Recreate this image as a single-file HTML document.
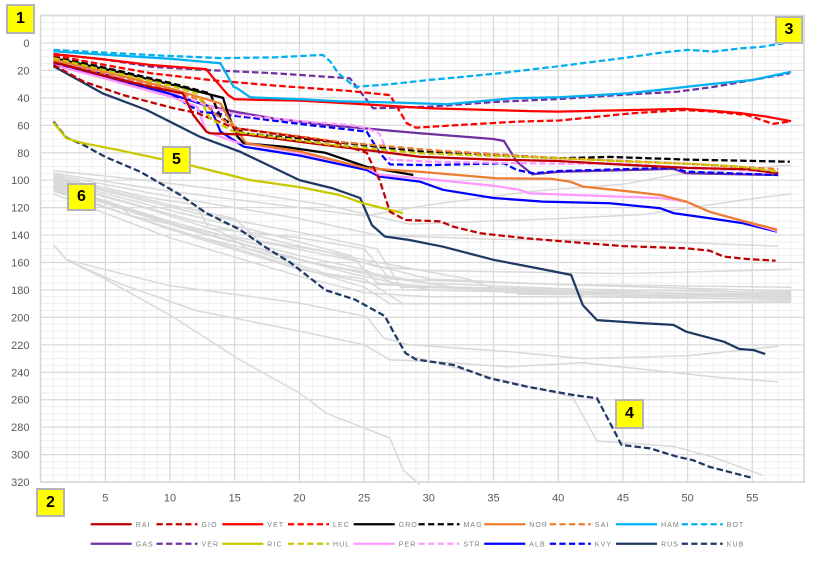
<!DOCTYPE html>
<html>
<head>
<meta charset="utf-8">
<style>
html,body{margin:0;padding:0;background:#fff;}
body{width:829px;height:563px;position:relative;overflow:hidden;font-family:"Liberation Sans",sans-serif;}
svg{position:absolute;left:0;top:0;}
.box{position:absolute;background:#ffff00;border:2px solid #b4b4b4;box-sizing:border-box;font:bold 16px "Liberation Sans",sans-serif;color:#000;display:flex;align-items:center;justify-content:center;}
</style>
</head>
<body>
<svg id="chart" width="829" height="563" viewBox="0 0 829 563" xmlns="http://www.w3.org/2000/svg">
  <g id="grid"></g>
  <g id="gray" fill="none" stroke="#d9d9d9" stroke-width="1.5" stroke-linejoin="round"></g>
  <g id="series" fill="none" stroke-width="2.25" stroke-linejoin="round"></g>
  <g id="axes" font-family="Liberation Sans, sans-serif" font-size="11" fill="#595959"></g>
  <g id="legend"></g>
</svg>
<div class="box" style="left:6px;top:4px;width:29px;height:30px;">1</div>
<div class="box" style="left:36px;top:488px;width:29px;height:29px;">2</div>
<div class="box" style="left:775px;top:16px;width:28px;height:28px;">3</div>
<div class="box" style="left:615px;top:399px;width:29px;height:30px;">4</div>
<div class="box" style="left:162px;top:146px;width:29px;height:28px;">5</div>
<div class="box" style="left:67px;top:183px;width:29px;height:28px;">6</div>
<script>
(function(){
var NS="http://www.w3.org/2000/svg";
function X(l){return 40.6+12.94*l;}
function Y(v){return 43+1.372*v;}
function el(tag,attrs,parent){var e=document.createElementNS(NS,tag);for(var k in attrs)e.setAttribute(k,attrs[k]);parent.appendChild(e);return e;}
var grid=document.getElementById('grid');
var L=X(0),R=X(59),T=Y(-20),B=Y(320);
// minor horizontal
for(var v=-20;v<=320;v+=5){ if(v%20!==0) el('line',{x1:L,x2:R,y1:Y(v),y2:Y(v),stroke:'#efefef','stroke-width':1},grid);}
// minor vertical
for(var l=1;l<59;l++){ if(l%5!==0) el('line',{x1:X(l),x2:X(l),y1:T,y2:B,stroke:'#efefef','stroke-width':1},grid);}
// major horizontal
for(var v=0;v<320;v+=20){ el('line',{x1:L,x2:R,y1:Y(v),y2:Y(v),stroke:'#d9d9d9','stroke-width':1.2},grid);}
for(var l=5;l<59;l+=5){ el('line',{x1:X(l),x2:X(l),y1:T,y2:B,stroke:'#d9d9d9','stroke-width':1.2},grid);}
el('rect',{x:L,y:T,width:R-L,height:B-T,fill:'none',stroke:'#d9d9d9','stroke-width':1.8},grid);

var axes=document.getElementById('axes');
for(var v=0;v<=320;v+=20){var t=el('text',{x:29.5,y:Y(v)+4,'text-anchor':'end'},axes);t.textContent=v;}
for(var l=5;l<=55;l+=5){var t=el('text',{x:X(l),y:501.5,'text-anchor':'middle'},axes);t.textContent=l;}

function pts(a){var s=[];for(var i=0;i<a.length;i++)s.push(X(a[i][0]).toFixed(1)+','+Y(a[i][1]).toFixed(1));return s.join(' ');}

var grayLines=[
[[1,93],[8,100],[15,108],[22,118],[28.5,132],[40,128],[46.6,125],[54.6,114],[58,110]],
[[1,95],[10,108],[20,120],[25,126],[30,118],[38,108],[45,103],[49,96],[58,89]],
[[1,96],[10,112],[20,128],[26,140],[35,143],[45,144],[57,148]],
[[1,97],[8,112],[12,118],[13,135],[20,142],[25,150],[27,172],[40,176],[58,178]],
[[1,98],[10,118],[15,128],[17,145],[25,160],[30,172],[40,176],[58,181]],
[[1,99],[12,124],[20,138],[26,150],[28,180],[45,182],[58,183]],
[[1,100],[10,122],[18,140],[24,155],[26,175],[35,180],[58,184]],
[[1,101],[12,130],[20,148],[25,158],[33,172],[36,182],[58,185]],
[[1,102],[8,120],[14,138],[16,150],[22,162],[30,175],[58,186]],
[[1,103],[10,130],[20,155],[25,165],[28,178],[41,180],[42,185],[58,187]],
[[1,104],[12,137],[21,160],[26,170],[32,178],[58,182]],
[[1,105],[11,135],[20,158],[24,168],[30,180],[58,186]],
[[1,106],[10,136],[16,150],[22,168],[25,172],[28,190],[40,190],[58,188]],
[[1,107],[12,142],[20,165],[26,176],[36,180],[37,183],[58,185]],
[[1,108],[9,132],[18,158],[25,178],[27,190],[58,189]],
[[1,110],[10,142],[20,170],[25,182],[30,185],[58,185]],
[[1,104],[6,118],[7,126],[14,140],[22,152],[26,163],[30,166],[45,168],[58,165]],
[[1,147],[2,158],[10,177],[20,189.5],[25.2,199.5],[26.5,215],[28.5,220],[36.3,225],[41.9,230],[50,228],[57,221]],
[[2,158],[6,175],[12,195],[20,210],[25,220],[27,231],[30,232],[36,236],[41.9,233],[52.7,244],[57,247]],
[[1,147],[2,158],[5,172],[10.2,199.5],[15.4,231],[20,255],[22.1,270],[27,288],[28,311],[29.3,322]],
[[28.5,228],[35,244],[41.1,258],[43,290],[48.9,294],[52,302],[55.8,315]]
];
var gray=document.getElementById('gray');
grayLines.forEach(function(a){el('polyline',{points:pts(a)},gray);});

var C={dr:'#c00000',r:'#ff0000',k:'#000000',o:'#ed7d31',lb:'#00b0f0',pu:'#7030a0',y:'#c8c800',pk:'#ff99ff',b:'#0000ff',n:'#1f3864'};
var S=[
['RAI',C.dr,0,[[1,14],[5,24],[8.5,32],[11,36.7],[11.8,52.5],[12.8,64.6],[13.1,65.8],[16,67],[20,72],[23,75.5],[29.3,82.9],[35,85],[40,86],[45.6,89],[50,91],[54.6,92],[57,95]]],
['GIO',C.dr,1,[[1,16],[3.3,28],[6.4,38],[10.3,47.6],[12.1,51],[15,62],[22.6,72],[25.2,80],[26.2,100],[27,123],[28.2,129],[30.9,130],[31.9,133.9],[34,138.7],[37.6,142.4],[42.2,146],[45,148],[49.9,149.6],[51.7,151.4],[52.8,155.7],[54.6,157.4],[56.8,158.7]]],
['VET',C.r,0,[[1,8],[5,12],[8.5,16],[12.8,19],[13.3,25],[14.5,38],[15,41],[20,42],[23,43.5],[30,47.6],[37.8,49.6],[40,50],[45,49],[49.7,48],[52,49.5],[54,51],[56,53.5],[58,57]]],
['LEC',C.r,1,[[1,9],[5,16],[8.5,22],[13.1,27],[18,31],[23.9,35],[27,38],[28.3,58.5],[29,61.7],[32,60],[36.8,57.3],[40.1,56.5],[45.6,51.3],[49.7,48.8],[52,50],[54.6,52.5],[56.6,59],[58,57]]],
['GRO',C.k,0,[[1,11],[5,19],[10,30],[14.1,40],[14.5,52],[15.2,68],[15.7,73],[18.8,75.6],[22,80],[25.2,90.2],[28.8,96.2]]],
['MAG',C.k,1,[[1,10],[5,18],[10,29],[13.1,36.7],[13.9,53.7],[15.7,65.8],[22.6,72],[29.3,79],[37.8,82.9],[40.1,84],[44,83],[50,85],[57.9,86.5]]],
['NOR',C.o,0,[[1,12],[5,21],[10,33],[13.9,44],[14.6,56],[15.9,73],[20,79],[25.2,91.3],[29.3,93.8],[35.2,98.6],[39.4,99],[40.9,101],[41.9,104.7],[45.6,108.3],[47.9,110.8],[49.9,115.6],[51.7,123],[54,129],[56.9,136]]],
['SAI',C.o,1,[[1,13],[5,22],[10,34],[12.5,42],[13.5,52],[15,62],[20,68],[23,72],[30,78],[40,84],[50,88],[57,92]]],
['HAM',C.lb,0,[[1,6],[5,8.5],[10,11.5],[13.9,14.8],[14.9,31.8],[15.2,33],[16.2,39.6],[20,41],[23,42.5],[28,43.5],[31.4,44.7],[36.5,40.3],[40.1,39.6],[45.3,36.7],[48,34],[51.7,30],[55,27],[58,21]]],
['BOT',C.lb,1,[[1,5],[5,7],[10,9.5],[14,11],[18,10.5],[21.8,8.7],[22.4,13.6],[23,22],[24.3,32],[27,30],[30,27],[35,22.5],[40,17],[45,11],[48,7],[50,5],[52,6.3],[54,4],[55.8,2.7],[57.5,0]]],
['GAS',C.pu,0,[[1,16],[5,25],[10,37],[13,46],[15,50],[18,55],[22.4,60],[29.3,65.8],[35,70],[35.8,71.4],[36.8,86.5],[38,95.7],[40.1,93.8],[45.6,92.6],[48.9,91.8],[49.9,95],[57,96.2]]],
['VER',C.pu,1,[[1,8],[5,12],[8.5,17.3],[12.8,19.7],[18,22],[23.9,25.7],[25.7,47.6],[30,46.4],[35,43],[40.1,40.8],[45.6,37.4],[49.2,35.5],[52,32],[55,27],[57.9,22]]],
['RIC',C.y,0,[[1,58],[2,69.5],[3.3,73],[6,78],[11.5,89],[16.2,99.9],[20,105],[23.1,110.8],[24.9,116.8],[28,124]]],
['HUL',C.y,1,[[1,11],[5,20],[10,31],[12.1,36.7],[13.1,55],[14.9,64.6],[22.6,74.3],[29.3,80.4],[40,84],[45.6,86.5],[50,88],[54,90],[57,93.8]]],
['PER',C.pk,0,[[1,16],[5,26],[10,39],[12.1,46.4],[12.8,64.6],[15,72],[20,80],[25.2,91],[26.2,96],[29.3,98.6],[35,104],[37,107],[37.8,109.6],[45,112],[47.9,113],[49.9,115.6],[51.7,123],[54,129],[56.9,137]]],
['STR',C.pk,1,[[1,14],[5,23],[10,35],[13,46],[15,52],[20,57],[23.9,59.8],[25.2,62],[26.2,66],[27,85],[30,86.5],[40,88],[45,88],[49.9,91],[57,94]]],
['ALB',C.b,0,[[1,14],[5,23],[10,37],[13.1,46.4],[13.9,64.6],[15.7,75.6],[20,82],[25.2,92.6],[26.2,97.4],[29.3,101],[31.1,107],[35,113],[38.8,115.6],[44,116.8],[47.9,120.5],[48.9,124],[51.7,127.8],[54.3,131.4],[56.9,137.5]]],
['KVY',C.b,1,[[1,15],[5,24],[10,37],[12.3,50],[15,53],[20,59],[25.2,64.6],[26.2,80],[27,88.5],[30,89],[35.8,87.7],[36.8,92.6],[38.1,95],[40.1,93.3],[45,92],[48.9,90.9],[49.9,93.8],[57,96.2]]],
['RUS',C.n,0,[[1,17],[4.8,36.7],[8.2,48.8],[12.3,68.3],[15.4,79.2],[20,99.9],[22.6,106],[24.7,113],[25.6,132.7],[26.6,141],[28.5,143.6],[31.1,148.5],[35,158],[38.3,164],[41,169],[41.9,191],[43,202],[46.6,204.3],[48.9,205.5],[49.9,210.4],[52.8,217.7],[54,223],[55.1,223.8],[56,226.7]]],
['KUB',C.n,1,[[1,57.3],[2,69],[3.3,74.3],[5,83],[7.7,93.8],[10.8,110.8],[12.8,124],[15.4,136],[17.4,149],[19.3,160],[22,180],[24.3,187],[26.6,199],[27.4,213],[28.2,226],[29,230.6],[31.9,234.7],[34.7,244.4],[37.6,250.5],[41.1,256.5],[43,259],[44.9,293],[47.1,295.5],[49.2,301.5],[50.4,304],[51.7,309],[55,317]]]
];
var ser=document.getElementById('series');
// draw gray-ish first then colored in reverse-ish order so top series visible
var order=[19,18,12,10,16,17,14,15,4,5,6,7,0,1,13,11,2,3,8,9];
order.forEach(function(i){var s=S[i];var a={points:pts(s[3]),stroke:s[1]};if(s[2])a['stroke-dasharray']='6.5,3';el('polyline',a,ser);});

// legend
var lg=document.getElementById('legend');
var xs=[90.7,156.5,222.3,288,353.7,418.5,484.2,549.8,616,681.7];
var rows=[524.3,543.7];
for(var i=0;i<20;i++){
  var s=S[i];var r=Math.floor(i/10);var c=i%10;
  var x0=xs[c],y0=rows[r];
  var a={x1:x0,x2:x0+41,y1:y0,y2:y0,stroke:s[1],'stroke-width':2.25};
  if(s[2])a['stroke-dasharray']='6.2,3.4';
  el('line',a,lg);
  var t=el('text',{x:x0+45,y:y0+2.6,'font-family':'Liberation Sans, sans-serif','font-size':'7','fill':'#7f7f7f','letter-spacing':'1.1'},lg);
  t.textContent=s[0];
}
})();
</script>
</body>
</html>
